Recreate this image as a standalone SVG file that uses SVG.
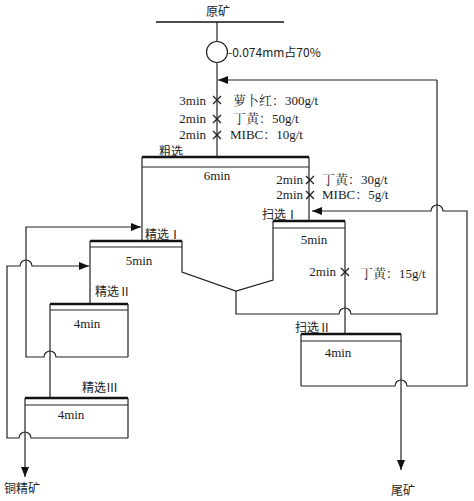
<svg xmlns="http://www.w3.org/2000/svg" width="474" height="501" viewBox="0 0 474 501">
<style>
.ln{fill:none;stroke:#222;stroke-width:1.2}
.tk{fill:none;stroke:#111;stroke-width:2.6}
.x{fill:none;stroke:#222;stroke-width:1.3}
text{font-family:"Liberation Serif","Noto Serif CJK SC","Noto Sans CJK SC",serif;font-size:13px;fill:#222}
.cn{font-family:"Noto Sans CJK SC","Liberation Serif",sans-serif;font-size:12px}
</style>
<defs>
<marker id="ah" viewBox="0 0 10 8" refX="10" refY="4" markerWidth="10" markerHeight="8" markerUnits="userSpaceOnUse" orient="auto">
<path d="M0,0 L10,4 L0,8 Z" fill="#111"/>
</marker>
</defs>
<g id="feed">
<line class="tk" x1="156" y1="22" x2="284" y2="22" style="stroke-width:1.6"/>
<text class="cn" x="218" y="16" text-anchor="middle">原矿</text>
<circle class="ln" cx="217" cy="52" r="10.5" fill="#fff"/>
<text class="cn" x="228" y="57">-0.074mm占70%</text>
</g>
<g id="rougher">
<line class="tk" x1="142" y1="157" x2="309" y2="157"/>
<line class="ln" x1="142" y1="167" x2="309" y2="167"/>
<text class="cn" x="171" y="156" text-anchor="middle">粗选</text>
<text x="217" y="180" text-anchor="middle">6min</text>
</g>
<g id="cleaner1">
<line class="tk" x1="90" y1="241" x2="182" y2="241"/>
<line class="ln" x1="90" y1="247" x2="182" y2="247"/>
<text class="cn" x="145" y="239">精选Ⅰ</text>
<text x="139" y="265" text-anchor="middle">5min</text>
</g>
<g id="cleaner2">
<line class="tk" x1="50" y1="304" x2="128" y2="304"/>
<line class="ln" x1="50" y1="310" x2="128" y2="310"/>
<line class="ln" x1="128" y1="304" x2="128" y2="357"/>
<text class="cn" x="95" y="296">精选Ⅱ</text>
<text x="87" y="328" text-anchor="middle">4min</text>
</g>
<g id="cleaner3">
<line class="tk" x1="25" y1="398" x2="128" y2="398"/>
<line class="ln" x1="25" y1="405" x2="128" y2="405"/>
<line class="ln" x1="128" y1="398" x2="128" y2="438"/>
<text class="cn" x="82" y="392">精选Ⅲ</text>
<text x="71" y="419" text-anchor="middle">4min</text>
</g>
<g id="scav1">
<line class="tk" x1="273" y1="221" x2="345" y2="221"/>
<line class="ln" x1="273" y1="228" x2="345" y2="228"/>
<text class="cn" x="262" y="219">扫选Ⅰ</text>
<text x="314" y="244" text-anchor="middle">5min</text>
</g>
<g id="scav2">
<line class="tk" x1="301" y1="334" x2="401" y2="334"/>
<line class="ln" x1="301" y1="341" x2="401" y2="341"/>
<line class="ln" x1="301" y1="334" x2="301" y2="386"/>
<text class="cn" x="295" y="332">扫选Ⅱ</text>
<text x="338" y="357" text-anchor="middle">4min</text>
</g>
<g id="products">
<text class="cn" x="22" y="493" text-anchor="middle">铜精矿</text>
<text class="cn" x="403" y="495" text-anchor="middle">尾矿</text>
</g>
<g id="reagents">
<text x="206" y="105" text-anchor="end">3min</text>
<text x="233" y="105">萝卜红：300g/t</text>
<text x="206" y="123" text-anchor="end">2min</text>
<text x="233" y="123">丁黄：50g/t</text>
<text x="206" y="139" text-anchor="end">2min</text>
<text x="230" y="139">MIBC：10g/t</text>
<text x="303" y="184" text-anchor="end">2min</text>
<text x="322" y="184">丁黄：30g/t</text>
<text x="303" y="199" text-anchor="end">2min</text>
<text x="322" y="199">MIBC：5g/t</text>
<text x="336" y="276" text-anchor="end">2min</text>
<text x="360" y="278">丁黄：15g/t</text>
<path class="x" d="M213,96 L221,104 M221,96 L213,104 M213,115 L221,123 M221,115 L213,123 M213,131 L221,139 M221,131 L213,139 M306,176 L314,184 M314,176 L306,184 M306,191 L314,199 M314,191 L306,199 M341,268 L349,276 M349,268 L341,276"/>
</g>
<g id="connectors">
<line class="ln" x1="217" y1="22" x2="217" y2="41.5"/>
<line class="ln" x1="217" y1="62.5" x2="217" y2="157"/>
<path class="ln" d="M437,80 L218,80" marker-end="url(#ah)"/>
<path class="ln" d="M142,157 V241"/>
<path class="ln" d="M309,157 V221"/>
<path class="ln" d="M90,241 V304"/>
<path class="ln" d="M182,241 V272 L236,291 L273,280 V221"/>
<path class="ln" d="M236,291 V314 H339 A6,6 0 0 1 351,314 H437 V80"/>
<path class="ln" d="M345,221 V334"/>
<path class="ln" d="M301,386 H395 A6,6 0 0 1 407,386 H467 V211 H443 A6,6 0 0 0 431,211 H312" marker-end="url(#ah)"/>
<path class="ln" d="M401,334 V470" marker-end="url(#ah)"/>
<path class="ln" d="M128,357 H56 A6,6 0 0 0 44,357 H26 V227 H141" marker-end="url(#ah)"/>
<path class="ln" d="M50,304 V398"/>
<path class="ln" d="M128,438 H31 A6,6 0 0 0 19,438 H7 V266 H20 A6,6 0 0 1 32,266 H89" marker-end="url(#ah)"/>
<path class="ln" d="M25,398 V477" marker-end="url(#ah)"/>
</g>
</svg>
